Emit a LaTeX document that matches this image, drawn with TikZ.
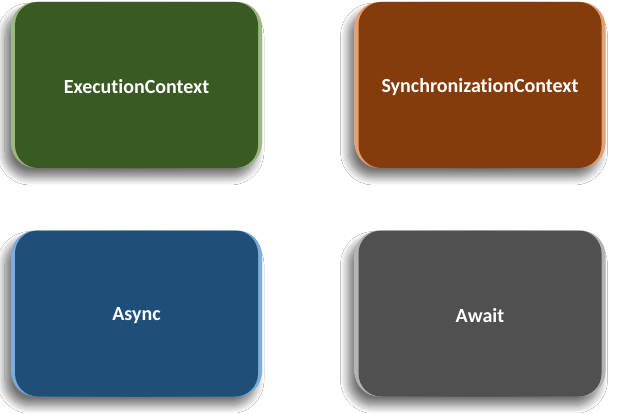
\documentclass[tikz,border=0pt]{standalone}
\usepackage{fontspec}
\setmainfont{Carlito}[Ligatures={NoCommon}]
\usetikzlibrary{shadows.blur}
\definecolor{cgreen}{HTML}{3A5A24}
\definecolor{cgreenL}{HTML}{9DBA85}
\definecolor{corange}{HTML}{843C0C}
\definecolor{corangeL}{HTML}{E7A173}
\definecolor{cblue}{HTML}{1F4E79}
\definecolor{cblueL}{HTML}{7FAEDB}
\definecolor{cgrey}{HTML}{505050}
\definecolor{cgreyL}{HTML}{B5B5B5}
\tikzset{
  outerbox/.style={rectangle, rounded corners=25pt, minimum width=251pt, minimum height=166pt, inner sep=0pt,
    blur shadow={shadow xshift=-6pt, shadow yshift=-9pt, shadow blur steps=10, shadow blur radius=8pt, shadow opacity=55}},
  innerbox/.style={rectangle, rounded corners=23pt, minimum width=243pt, minimum height=166pt, inner sep=0pt,
    text=white, font=\bfseries\fontsize{20}{24}\selectfont}
}
\begin{document}
\begin{tikzpicture}[x=1pt,y=1pt]
\useasboundingbox[fill=white] (0,0) rectangle (620,413);
% green
\node[outerbox, left color=cgreenL, right color=cgreenL, middle color=cgreen] (g0) at (136.5,328) {};
\node[innerbox, fill=cgreen] (g) at (136.5,328) {};
\node[text=white, font=\bfseries\fontsize{20}{24}\selectfont] (gt) at (136.5,326) {ExecutionContext};
% orange
\node[outerbox, left color=corangeL, right color=corangeL, middle color=corange] (o0) at (480,328) {};
\node[innerbox, fill=corange] (o) at (480,328) {};
\node[text=white, font=\bfseries\fontsize{20}{24}\selectfont] (ot) at (480,326) {SynchronizationContext};
% blue
\node[outerbox, left color=cblueL, right color=cblueL, middle color=cblue] (b0) at (136.5,99.5) {};
\node[innerbox, fill=cblue] (b) at (136.5,99.5) {};
\node[text=white, font=\bfseries\fontsize{20}{24}\selectfont] (bt) at (136.5,97.5) {Async};
% grey
\node[outerbox, left color=cgreyL, right color=cgreyL, middle color=cgrey] (k0) at (480,99.5) {};
\node[innerbox, fill=cgrey] (k) at (480,99.5) {};
\node[text=white, font=\bfseries\fontsize{20}{24}\selectfont] (kt) at (480,97.5) {Await};
\end{tikzpicture}
\end{document}
